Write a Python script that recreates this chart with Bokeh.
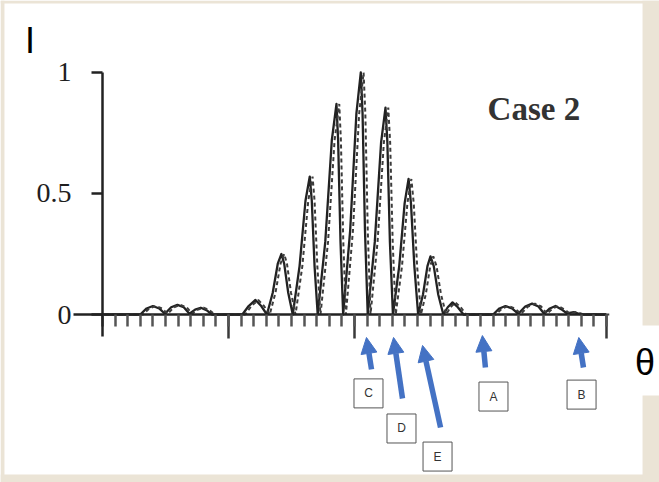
from bokeh.core.properties import value
from bokeh.embed import file_html
from bokeh.models import (Arrow, BoxAnnotation, ColumnDataSource, FixedTicker,
                          Label, LinearAxis, NormalHead, Range1d)
from bokeh.plotting import figure
from bokeh.resources import INLINE
from bokeh.transform import dodge

# intensity trace; theta counted in axis ticks (centre tick = 0)
theta = [-20.0, -17.0,
         -16.5, -16.0, -15.5, -15.05, -14.55, -14.05, -13.55, -13.1,
         -12.65, -12.2, -11.75, -11.3, -8.9,
         -8.4, -7.86, -7.4, -6.95,
         -6.49, -6.09, -5.8, -5.58, -5.26, -4.9,
         -4.36, -3.89, -3.55, -3.39, -3.17, -2.92,
         -2.32, -1.8, -1.43, -1.3, -1.11, -0.9,
         -0.34, 0.15, 0.5, 0.64, 0.83, 1.05,
         1.61, 2.11, 2.46, 2.61, 2.81, 3.05,
         3.55, 3.98, 4.29, 4.48, 4.75, 5.05,
         5.44, 5.79, 6.03, 6.29, 6.64, 7.05,
         7.4, 7.78, 8.2, 8.65, 11.0,
         11.5, 11.98, 12.5, 13.0, 13.55, 14.1, 14.6, 15.05,
         15.5, 15.95, 16.4, 16.85, 17.4, 18.0, 20.0]
intensity = [0.0, 0.0,
             0.025, 0.035, 0.025, 0.003, 0.03, 0.04, 0.03, 0.003,
             0.02, 0.028, 0.018, 0.0, 0.0,
             0.035, 0.06, 0.035, 0.0,
             0.09, 0.21, 0.25, 0.21, 0.09, 0.0,
             0.2, 0.47, 0.57, 0.47, 0.2, 0.0,
             0.3, 0.72, 0.87, 0.72, 0.3, 0.0,
             0.35, 0.83, 1.0, 0.83, 0.35, 0.0,
             0.3, 0.71, 0.855, 0.71, 0.3, 0.0,
             0.2, 0.46, 0.56, 0.46, 0.2, 0.0,
             0.084, 0.2, 0.24, 0.2, 0.084, 0.0,
             0.03, 0.05, 0.03, 0.0, 0.0,
             0.025, 0.035, 0.025, 0.003, 0.033, 0.045, 0.033, 0.003,
             0.025, 0.035, 0.022, 0.005, 0.01, 0.0, 0.0]

y_ticks = [0, 0.5, 1]
y_tick_labels = ["0", "0.5", "1"]
x_major_ticks = [-10, 0, 20]
x_minor_ticks = list(range(-20, 21))

# the lettered arrows below the axis
marker_labels = ["C", "D", "E", "A", "B"]
marker_theta = [0.95, 3.1, 5.4, 10.15, 17.8]

BLUE = "#4472C4"
INK = "#222222"
PAPER = "#ebe4d6"

# arrow / box layout relative to the arrow tip
TIP_Y = [-0.095, -0.095, -0.128, -0.087, -0.095]
TAIL = [(0.4, -0.227), (0.71, -0.347), (1.43, -0.467), (0.24, -0.219), (0.37, -0.219)]
BOX = [(0.16, -0.326), (0.63, -0.471), (1.19, -0.587), (0.88, -0.339), (0.22, -0.331)]

p = figure(width=659, height=482, output_backend="svg", toolbar_location=None,
           x_range=Range1d(-28.095, 24.206), y_range=Range1d(-0.6942, 1.2975),
           x_axis_type=None, y_axis_type=None, min_border=0,
           outline_line_color=None, background_fill_color="white",
           border_fill_color=PAPER)

# beige photo edge, broken on the right where the theta label sits
edge = dict(fill_color=PAPER, fill_alpha=1, line_color=None)
p.add_layout(BoxAnnotation(right=-27.78, **edge))
p.add_layout(BoxAnnotation(bottom=1.285, **edge))
p.add_layout(BoxAnnotation(top=-0.6612, **edge))
p.add_layout(BoxAnnotation(left=22.86, bottom=-0.045, **edge))
p.add_layout(BoxAnnotation(left=22.86, top=-0.335, **edge))

xaxis = LinearAxis(fixed_location=0, bounds=(-22.3, 20),
                   ticker=FixedTicker(ticks=x_major_ticks, minor_ticks=x_minor_ticks),
                   major_label_overrides={t: "" for t in x_major_ticks},
                   axis_line_color=INK, axis_line_width=2.5,
                   major_tick_in=0, major_tick_out=24,
                   major_tick_line_color="#3a3a3a", major_tick_line_width=2.5,
                   minor_tick_in=0, minor_tick_out=12,
                   minor_tick_line_color="#555", minor_tick_line_width=2.5)
p.add_layout(xaxis, "below")

yaxis = LinearAxis(fixed_location=-20, bounds=(-0.09, 1),
                   ticker=FixedTicker(ticks=y_ticks, minor_ticks=[]),
                   major_label_overrides=dict(zip(y_ticks, y_tick_labels)),
                   axis_line_color=INK, axis_line_width=2.5,
                   major_tick_in=0, major_tick_out=11,
                   major_tick_line_color=INK, major_tick_line_width=2.5,
                   minor_tick_out=0, major_label_standoff=20,
                   major_label_text_font="Liberation Serif",
                   major_label_text_font_size="28px",
                   major_label_text_color="#1e1e1e")
p.add_layout(yaxis, "left")

curve = ColumnDataSource(dict(theta=theta, intensity=intensity))
p.line("theta", "intensity", source=curve, line_color=INK, line_width=2.3,
       line_join="round")
# the scan shows a second, dashed trace just right of the solid one
p.line(dodge("theta", 0.22), "intensity", source=curve, line_color="#3c3c3c",
       line_width=2, line_dash="4 3")

arrows = ColumnDataSource(dict(
    x_start=[t + dx for t, (dx, _) in zip(marker_theta, TAIL)],
    y_start=[y for _, y in TAIL],
    x_end=marker_theta,
    y_end=TIP_Y,
))
p.add_layout(Arrow(source=arrows, x_start="x_start", y_start="y_start",
                   x_end="x_end", y_end="y_end",
                   line_color=BLUE, line_width=5.5,
                   end=NormalHead(size=16, fill_color=BLUE, line_color=BLUE)))

boxes = ColumnDataSource(dict(
    x=[t + dx for t, (dx, _) in zip(marker_theta, BOX)],
    y=[y for _, y in BOX],
    label=marker_labels,
))
p.scatter("x", "y", source=boxes, marker="square", size=29,
          fill_color="white", line_color="#555", line_width=1)
p.text("x", "y", text="label", source=boxes, text_align="center",
       text_baseline="middle", text_font=value("Liberation Sans"),
       text_font_size="12px", text_color="#333")

p.add_layout(Label(x=-25.75, y=1.134, text="I", text_align="center",
                   text_baseline="middle", text_font="Liberation Sans",
                   text_font_size="36px", text_color="black"))
p.add_layout(Label(x=10.56, y=0.851, text="Case 2", text_baseline="alphabetic",
                   text_font="Liberation Serif", text_font_size="33px",
                   text_font_style="bold", text_color="#333"))
p.add_layout(Label(x=23.05, y=-0.198, text="θ", text_align="center",
                   text_baseline="middle", text_font="Liberation Sans",
                   text_font_size="36px", text_color="black"))

open("out.html", "w").write(file_html(p, INLINE))
